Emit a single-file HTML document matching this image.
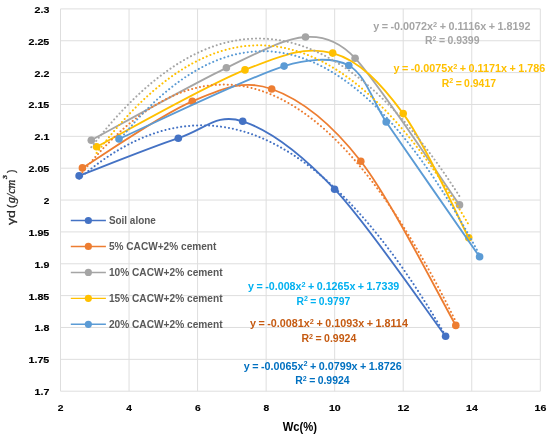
<!DOCTYPE html>
<html><head><meta charset="utf-8"><title>Chart</title>
<style>html,body{margin:0;padding:0;background:#fff;overflow:hidden}svg{display:block}</style></head>
<body>
<svg width="550" height="438" viewBox="0 0 550 438">
<rect width="550" height="438" fill="#fff"/>
<g stroke="#DEDEDE" stroke-width="1" fill="none" shape-rendering="auto">
<line x1="60.50" y1="8.90" x2="540.30" y2="8.90"/>
<line x1="60.50" y1="40.76" x2="540.30" y2="40.76"/>
<line x1="60.50" y1="72.62" x2="540.30" y2="72.62"/>
<line x1="60.50" y1="104.48" x2="540.30" y2="104.48"/>
<line x1="60.50" y1="136.33" x2="540.30" y2="136.33"/>
<line x1="60.50" y1="168.19" x2="540.30" y2="168.19"/>
<line x1="60.50" y1="200.05" x2="540.30" y2="200.05"/>
<line x1="60.50" y1="231.91" x2="540.30" y2="231.91"/>
<line x1="60.50" y1="263.77" x2="540.30" y2="263.77"/>
<line x1="60.50" y1="295.62" x2="540.30" y2="295.62"/>
<line x1="60.50" y1="327.48" x2="540.30" y2="327.48"/>
<line x1="60.50" y1="359.34" x2="540.30" y2="359.34"/>
<line x1="60.50" y1="391.20" x2="540.30" y2="391.20"/>
<line x1="60.50" y1="8.90" x2="60.50" y2="391.20"/>
<line x1="129.04" y1="8.90" x2="129.04" y2="391.20"/>
<line x1="197.59" y1="8.90" x2="197.59" y2="391.20"/>
<line x1="266.13" y1="8.90" x2="266.13" y2="391.20"/>
<line x1="334.67" y1="8.90" x2="334.67" y2="391.20"/>
<line x1="403.21" y1="8.90" x2="403.21" y2="391.20"/>
<line x1="471.76" y1="8.90" x2="471.76" y2="391.20"/>
<line x1="540.30" y1="8.90" x2="540.30" y2="391.20"/>
</g>
<path d="M79.10,175.80 C95.63,169.53 151.03,147.28 178.30,138.20 C205.57,129.12 216.65,112.80 242.70,121.30 C268.75,129.80 300.78,153.37 334.60,189.20 C368.42,225.03 427.10,311.78 445.60,336.30" fill="none" stroke="#4472C4" stroke-width="1.85" stroke-linecap="round" stroke-linejoin="round"/>
<circle cx="79.10" cy="175.80" r="3.8" fill="#4472C4"/>
<circle cx="178.30" cy="138.20" r="3.8" fill="#4472C4"/>
<circle cx="242.70" cy="121.30" r="3.8" fill="#4472C4"/>
<circle cx="334.60" cy="189.20" r="3.8" fill="#4472C4"/>
<circle cx="445.60" cy="336.30" r="3.8" fill="#4472C4"/>
<path d="M82.40,167.90 C100.72,156.80 160.75,114.45 192.30,101.30 C223.85,88.15 243.62,79.02 271.70,89.00 C299.78,98.98 330.12,121.80 360.80,161.20 C391.48,200.60 439.97,298.03 455.80,325.40" fill="none" stroke="#ED7D31" stroke-width="1.85" stroke-linecap="round" stroke-linejoin="round"/>
<circle cx="82.40" cy="167.90" r="3.8" fill="#ED7D31"/>
<circle cx="192.30" cy="101.30" r="3.8" fill="#ED7D31"/>
<circle cx="271.70" cy="89.00" r="3.8" fill="#ED7D31"/>
<circle cx="360.80" cy="161.20" r="3.8" fill="#ED7D31"/>
<circle cx="455.80" cy="325.40" r="3.8" fill="#ED7D31"/>
<path d="M91.30,140.20 C113.82,128.13 190.70,85.00 226.40,67.80 C262.10,50.60 284.05,38.60 305.50,37.00 C326.95,35.40 342.95,44.95 355.10,58.20 C380.77,86.18 442.10,180.45 459.50,204.90" fill="none" stroke="#A5A5A5" stroke-width="1.85" stroke-linecap="round" stroke-linejoin="round"/>
<circle cx="91.30" cy="140.20" r="3.8" fill="#A5A5A5"/>
<circle cx="226.40" cy="67.80" r="3.8" fill="#A5A5A5"/>
<circle cx="305.50" cy="37.00" r="3.8" fill="#A5A5A5"/>
<circle cx="355.10" cy="58.20" r="3.8" fill="#A5A5A5"/>
<circle cx="459.50" cy="204.90" r="3.8" fill="#A5A5A5"/>
<path d="M96.60,146.80 C121.33,133.98 205.65,85.52 245.00,69.90 C284.35,54.28 306.33,45.82 332.70,53.10 C359.07,60.38 380.53,82.82 403.20,113.60 C425.87,144.38 457.78,217.10 468.70,237.80" fill="none" stroke="#FFC000" stroke-width="1.85" stroke-linecap="round" stroke-linejoin="round"/>
<circle cx="96.60" cy="146.80" r="3.8" fill="#FFC000"/>
<circle cx="245.00" cy="69.90" r="3.8" fill="#FFC000"/>
<circle cx="332.70" cy="53.10" r="3.8" fill="#FFC000"/>
<circle cx="403.20" cy="113.60" r="3.8" fill="#FFC000"/>
<circle cx="468.70" cy="237.80" r="3.8" fill="#FFC000"/>
<path d="M119.00,138.90 C146.52,126.77 245.80,78.33 284.10,66.10 C304.65,59.54 331.78,56.20 348.80,65.50 C365.82,74.80 373.47,103.28 386.20,121.90 C408.00,153.78 464.03,234.32 479.60,256.80" fill="none" stroke="#5B9BD5" stroke-width="1.85" stroke-linecap="round" stroke-linejoin="round"/>
<circle cx="119.00" cy="138.90" r="3.8" fill="#5B9BD5"/>
<circle cx="284.10" cy="66.10" r="3.8" fill="#5B9BD5"/>
<circle cx="348.80" cy="65.50" r="3.8" fill="#5B9BD5"/>
<circle cx="386.20" cy="121.90" r="3.8" fill="#5B9BD5"/>
<circle cx="479.60" cy="256.80" r="3.8" fill="#5B9BD5"/>
<path d="M79.10,178.69 L83.68,174.78 L88.26,171.02 L92.84,167.41 L97.42,163.94 L102.01,160.63 L106.59,157.46 L111.17,154.45 L115.75,151.58 L120.33,148.86 L124.91,146.29 L129.49,143.86 L134.08,141.59 L138.66,139.47 L143.24,137.49 L147.82,135.66 L152.40,133.98 L156.98,132.45 L161.56,131.07 L166.14,129.84 L170.72,128.76 L175.31,127.82 L179.89,127.03 L184.47,126.40 L189.05,125.91 L193.63,125.57 L198.21,125.37 L202.79,125.33 L207.38,125.44 L211.96,125.69 L216.54,126.09 L221.12,126.64 L225.70,127.34 L230.28,128.19 L234.86,129.19 L239.44,130.34 L244.03,131.63 L248.61,133.08 L253.19,134.67 L257.77,136.41 L262.35,138.30 L266.93,140.34 L271.51,142.52 L276.09,144.86 L280.67,147.34 L285.26,149.98 L289.84,152.76 L294.42,155.69 L299.00,158.77 L303.58,162.00 L308.16,165.37 L312.74,168.90 L317.33,172.57 L321.91,176.40 L326.49,180.37 L331.07,184.49 L335.65,188.76 L340.23,193.17 L344.81,197.74 L349.39,202.46 L353.98,207.32 L358.56,212.33 L363.14,217.49 L367.72,222.80 L372.30,228.26 L376.88,233.87 L381.46,239.62 L386.04,245.53 L390.63,251.58 L395.21,257.78 L399.79,264.13 L404.37,270.63 L408.95,277.28 L413.53,284.08 L418.11,291.02 L422.69,298.12 L427.28,305.36 L431.86,312.75 L436.44,320.29 L441.02,327.98 L445.60,335.82" fill="none" stroke="#4472C4" stroke-width="2" stroke-linecap="round" stroke-dasharray="0.1 3.9"/>
<path d="M82.40,172.31 L87.07,166.60 L91.74,161.09 L96.40,155.77 L101.07,150.64 L105.74,145.70 L110.41,140.96 L115.07,136.40 L119.74,132.04 L124.41,127.87 L129.08,123.89 L133.74,120.10 L138.41,116.51 L143.08,113.10 L147.75,109.89 L152.41,106.87 L157.08,104.04 L161.75,101.40 L166.42,98.96 L171.08,96.70 L175.75,94.64 L180.42,92.77 L185.08,91.09 L189.75,89.60 L194.42,88.31 L199.09,87.20 L203.76,86.29 L208.42,85.57 L213.09,85.04 L217.76,84.70 L222.43,84.55 L227.09,84.60 L231.76,84.84 L236.43,85.27 L241.09,85.89 L245.76,86.70 L250.43,87.70 L255.10,88.90 L259.76,90.29 L264.43,91.86 L269.10,93.63 L273.77,95.60 L278.43,97.75 L283.10,100.10 L287.77,102.63 L292.44,105.36 L297.11,108.28 L301.77,111.40 L306.44,114.70 L311.11,118.20 L315.77,121.88 L320.44,125.76 L325.11,129.83 L329.78,134.09 L334.44,138.55 L339.11,143.19 L343.78,148.03 L348.45,153.06 L353.11,158.28 L357.78,163.69 L362.45,169.30 L367.12,175.09 L371.79,181.08 L376.45,187.26 L381.12,193.63 L385.79,200.19 L390.45,206.94 L395.12,213.89 L399.79,221.03 L404.46,228.36 L409.13,235.88 L413.79,243.59 L418.46,251.49 L423.13,259.59 L427.80,267.88 L432.46,276.35 L437.13,285.02 L441.80,293.89 L446.47,302.94 L451.13,312.19 L455.80,321.62" fill="none" stroke="#ED7D31" stroke-width="2" stroke-linecap="round" stroke-dasharray="0.1 3.9"/>
<path d="M91.30,147.23 L95.90,141.32 L100.50,135.57 L105.11,129.99 L109.71,124.58 L114.31,119.33 L118.91,114.24 L123.52,109.32 L128.12,104.57 L132.72,99.98 L137.32,95.56 L141.93,91.30 L146.53,87.20 L151.13,83.27 L155.74,79.51 L160.34,75.91 L164.94,72.48 L169.54,69.21 L174.14,66.11 L178.75,63.17 L183.35,60.40 L187.95,57.79 L192.55,55.35 L197.16,53.07 L201.76,50.96 L206.36,49.01 L210.96,47.23 L215.57,45.61 L220.17,44.16 L224.77,42.88 L229.38,41.76 L233.98,40.80 L238.58,40.01 L243.18,39.38 L247.78,38.92 L252.39,38.63 L256.99,38.50 L261.59,38.53 L266.19,38.73 L270.80,39.10 L275.40,39.63 L280.00,40.32 L284.61,41.18 L289.21,42.21 L293.81,43.40 L298.41,44.75 L303.01,46.28 L307.62,47.96 L312.22,49.81 L316.82,51.83 L321.43,54.01 L326.03,56.36 L330.63,58.87 L335.23,61.55 L339.83,64.39 L344.44,67.40 L349.04,70.57 L353.64,73.91 L358.25,77.41 L362.85,81.08 L367.45,84.91 L372.05,88.91 L376.65,93.07 L381.26,97.40 L385.86,101.89 L390.46,106.55 L395.06,111.38 L399.67,116.36 L404.27,121.52 L408.87,126.84 L413.47,132.32 L418.08,137.97 L422.68,143.79 L427.28,149.77 L431.89,155.91 L436.49,162.22 L441.09,168.70 L445.69,175.34 L450.29,182.14 L454.90,189.11 L459.50,196.25" fill="none" stroke="#A5A5A5" stroke-width="2" stroke-linecap="round" stroke-dasharray="0.1 3.9"/>
<path d="M96.60,152.98 L101.25,146.90 L105.90,141.00 L110.55,135.28 L115.20,129.73 L119.86,124.35 L124.51,119.16 L129.16,114.14 L133.81,109.30 L138.46,104.63 L143.11,100.14 L147.76,95.83 L152.41,91.69 L157.07,87.73 L161.72,83.95 L166.37,80.34 L171.02,76.91 L175.67,73.66 L180.32,70.58 L184.97,67.68 L189.62,64.95 L194.28,62.41 L198.93,60.04 L203.58,57.84 L208.23,55.82 L212.88,53.98 L217.53,52.32 L222.18,50.83 L226.84,49.52 L231.49,48.38 L236.14,47.43 L240.79,46.64 L245.44,46.04 L250.09,45.61 L254.74,45.36 L259.39,45.28 L264.04,45.38 L268.70,45.66 L273.35,46.12 L278.00,46.75 L282.65,47.55 L287.30,48.54 L291.95,49.70 L296.60,51.04 L301.25,52.55 L305.91,54.24 L310.56,56.11 L315.21,58.15 L319.86,60.37 L324.51,62.77 L329.16,65.34 L333.81,68.09 L338.46,71.02 L343.12,74.12 L347.77,77.40 L352.42,80.85 L357.07,84.49 L361.72,88.30 L366.37,92.28 L371.02,96.44 L375.68,100.78 L380.33,105.30 L384.98,109.99 L389.63,114.86 L394.28,119.90 L398.93,125.13 L403.58,130.52 L408.23,136.10 L412.88,141.85 L417.54,147.78 L422.19,153.88 L426.84,160.16 L431.49,166.62 L436.14,173.26 L440.79,180.07 L445.44,187.05 L450.09,194.22 L454.75,201.56 L459.40,209.08 L464.05,216.77 L468.70,224.64" fill="none" stroke="#FFC000" stroke-width="2" stroke-linecap="round" stroke-dasharray="0.1 3.9"/>
<path d="M119.00,140.68 L123.51,135.15 L128.01,129.80 L132.52,124.63 L137.03,119.64 L141.54,114.82 L146.05,110.17 L150.55,105.70 L155.06,101.41 L159.57,97.30 L164.08,93.36 L168.58,89.59 L173.09,86.00 L177.60,82.59 L182.11,79.36 L186.61,76.30 L191.12,73.41 L195.63,70.70 L200.14,68.17 L204.64,65.82 L209.15,63.64 L213.66,61.63 L218.16,59.80 L222.67,58.15 L227.18,56.67 L231.69,55.37 L236.19,54.25 L240.70,53.30 L245.21,52.53 L249.72,51.93 L254.22,51.51 L258.73,51.27 L263.24,51.20 L267.75,51.31 L272.26,51.59 L276.76,52.05 L281.27,52.69 L285.78,53.50 L290.29,54.48 L294.79,55.65 L299.30,56.99 L303.81,58.50 L308.32,60.19 L312.82,62.06 L317.33,64.10 L321.84,66.32 L326.35,68.72 L330.85,71.29 L335.36,74.04 L339.87,76.96 L344.38,80.06 L348.88,83.34 L353.39,86.79 L357.90,90.41 L362.41,94.22 L366.91,98.20 L371.42,102.35 L375.93,106.68 L380.44,111.19 L384.94,115.87 L389.45,120.73 L393.96,125.77 L398.47,130.98 L402.97,136.36 L407.48,141.93 L411.99,147.67 L416.50,153.58 L421.00,159.67 L425.51,165.94 L430.02,172.38 L434.53,179.00 L439.03,185.79 L443.54,192.77 L448.05,199.91 L452.56,207.23 L457.06,214.73 L461.57,222.41 L466.08,230.26 L470.59,238.29 L475.09,246.49 L479.60,254.87" fill="none" stroke="#5B9BD5" stroke-width="2" stroke-linecap="round" stroke-dasharray="0.1 3.9"/>
<g font-family="'Liberation Sans', sans-serif" font-weight="bold" font-size="9.7px" fill="#000" stroke="#000" stroke-width="0.15">
<text x="34.50" y="12.80" textLength="14.8" lengthAdjust="spacingAndGlyphs">2.3</text>
<text x="28.50" y="44.66" textLength="20.8" lengthAdjust="spacingAndGlyphs">2.25</text>
<text x="34.50" y="76.52" textLength="14.8" lengthAdjust="spacingAndGlyphs">2.2</text>
<text x="28.50" y="108.38" textLength="20.8" lengthAdjust="spacingAndGlyphs">2.15</text>
<text x="34.50" y="140.23" textLength="14.8" lengthAdjust="spacingAndGlyphs">2.1</text>
<text x="28.50" y="172.09" textLength="20.8" lengthAdjust="spacingAndGlyphs">2.05</text>
<text x="43.70" y="203.95" textLength="5.6" lengthAdjust="spacingAndGlyphs">2</text>
<text x="28.50" y="235.81" textLength="20.8" lengthAdjust="spacingAndGlyphs">1.95</text>
<text x="34.50" y="267.67" textLength="14.8" lengthAdjust="spacingAndGlyphs">1.9</text>
<text x="28.50" y="299.52" textLength="20.8" lengthAdjust="spacingAndGlyphs">1.85</text>
<text x="34.50" y="331.38" textLength="14.8" lengthAdjust="spacingAndGlyphs">1.8</text>
<text x="28.50" y="363.24" textLength="20.8" lengthAdjust="spacingAndGlyphs">1.75</text>
<text x="34.50" y="395.10" textLength="14.8" lengthAdjust="spacingAndGlyphs">1.7</text>
<text x="57.85" y="410.9" textLength="5.7" lengthAdjust="spacingAndGlyphs">2</text>
<text x="126.39" y="410.9" textLength="5.7" lengthAdjust="spacingAndGlyphs">4</text>
<text x="194.94" y="410.9" textLength="5.7" lengthAdjust="spacingAndGlyphs">6</text>
<text x="263.48" y="410.9" textLength="5.7" lengthAdjust="spacingAndGlyphs">8</text>
<text x="328.97" y="410.9" textLength="11.8" lengthAdjust="spacingAndGlyphs">10</text>
<text x="397.51" y="410.9" textLength="11.8" lengthAdjust="spacingAndGlyphs">12</text>
<text x="466.06" y="410.9" textLength="11.8" lengthAdjust="spacingAndGlyphs">14</text>
<text x="534.60" y="410.9" textLength="11.8" lengthAdjust="spacingAndGlyphs">16</text>
</g>
<text x="282.7" y="430.5" font-family="'Liberation Sans', sans-serif" font-weight="bold" font-size="12.2px" fill="#000" textLength="34.4" lengthAdjust="spacingAndGlyphs">Wc(%)</text>
<g transform="translate(14.6,225.3) rotate(-90)" fill="#2a2a2a" stroke="#2a2a2a" stroke-width="0.3">
<text x="0.2" y="0" font-family="'Liberation Sans', sans-serif" font-size="10.5px" textLength="14.9" lengthAdjust="spacingAndGlyphs">γd</text>
<text x="17.4" y="0" font-family="'Liberation Sans', sans-serif" font-size="10.5px" textLength="3.5" lengthAdjust="spacingAndGlyphs">(</text>
<text x="22.0" y="0" font-family="'Liberation Serif', serif" font-style="italic" font-size="11.5px" fill="#222" textLength="23.6" lengthAdjust="spacingAndGlyphs">g/cm</text>
<text x="46.3" y="-7.2" font-family="'Liberation Serif', serif" font-style="italic" font-size="7px" fill="#222" stroke-width="0.4" textLength="3.9" lengthAdjust="spacingAndGlyphs">3</text>
<text x="52.4" y="0" font-family="'Liberation Sans', sans-serif" font-size="10.5px" textLength="3.5" lengthAdjust="spacingAndGlyphs">)</text>
</g>
<line x1="70.8" y1="220.50" x2="105.9" y2="220.50" stroke="#4472C4" stroke-width="1.45"/>
<circle cx="88.35" cy="220.50" r="3.6" fill="#4472C4"/>
<text x="108.9" y="224.10" font-family="'Liberation Sans', sans-serif" font-weight="bold" font-size="10.8px" fill="#595959" textLength="46.9" lengthAdjust="spacingAndGlyphs">Soil alone</text>
<line x1="70.8" y1="246.45" x2="105.9" y2="246.45" stroke="#ED7D31" stroke-width="1.45"/>
<circle cx="88.35" cy="246.45" r="3.6" fill="#ED7D31"/>
<text x="108.9" y="250.05" font-family="'Liberation Sans', sans-serif" font-weight="bold" font-size="10.8px" fill="#595959" textLength="107.5" lengthAdjust="spacingAndGlyphs">5% CACW+2% cement</text>
<line x1="70.8" y1="272.40" x2="105.9" y2="272.40" stroke="#A5A5A5" stroke-width="1.45"/>
<circle cx="88.35" cy="272.40" r="3.6" fill="#A5A5A5"/>
<text x="108.9" y="276.00" font-family="'Liberation Sans', sans-serif" font-weight="bold" font-size="10.8px" fill="#595959" textLength="113.7" lengthAdjust="spacingAndGlyphs">10% CACW+2% cement</text>
<line x1="70.8" y1="298.35" x2="105.9" y2="298.35" stroke="#FFC000" stroke-width="1.45"/>
<circle cx="88.35" cy="298.35" r="3.6" fill="#FFC000"/>
<text x="108.9" y="301.95" font-family="'Liberation Sans', sans-serif" font-weight="bold" font-size="10.8px" fill="#595959" textLength="113.7" lengthAdjust="spacingAndGlyphs">15% CACW+2% cement</text>
<line x1="70.8" y1="324.30" x2="105.9" y2="324.30" stroke="#5B9BD5" stroke-width="1.45"/>
<circle cx="88.35" cy="324.30" r="3.6" fill="#5B9BD5"/>
<text x="108.9" y="327.90" font-family="'Liberation Sans', sans-serif" font-weight="bold" font-size="10.8px" fill="#595959" textLength="113.7" lengthAdjust="spacingAndGlyphs">20% CACW+2% cement</text>
<text x="373.20" y="29.80" font-family="'Liberation Sans', sans-serif" font-weight="bold" font-size="10.3px" word-spacing="-0.5" fill="#A5A5A5" textLength="157.4" lengthAdjust="spacingAndGlyphs">y = -0.0072x<tspan font-size="7px" dy="-3.3">2</tspan><tspan dy="3.3"> + 0.1116x + 1.8192</tspan></text>
<text x="425.00" y="44.40" font-family="'Liberation Sans', sans-serif" font-weight="bold" font-size="10.3px" word-spacing="-0.5" fill="#A5A5A5" textLength="54.5" lengthAdjust="spacingAndGlyphs">R<tspan font-size="7px" dy="-3.3">2</tspan><tspan dy="3.3"> = 0.9399</tspan></text>
<text x="393.50" y="72.00" font-family="'Liberation Sans', sans-serif" font-weight="bold" font-size="10.3px" word-spacing="-0.5" fill="#FFC000" textLength="151.7" lengthAdjust="spacingAndGlyphs">y = -0.0075x<tspan font-size="7px" dy="-3.3">2</tspan><tspan dy="3.3"> + 0.1171x + 1.786</tspan></text>
<text x="441.80" y="86.60" font-family="'Liberation Sans', sans-serif" font-weight="bold" font-size="10.3px" word-spacing="-0.5" fill="#FFC000" textLength="54.2" lengthAdjust="spacingAndGlyphs">R<tspan font-size="7px" dy="-3.3">2</tspan><tspan dy="3.3"> = 0.9417</tspan></text>
<text x="248.10" y="290.10" font-family="'Liberation Sans', sans-serif" font-weight="bold" font-size="10.3px" word-spacing="-0.5" fill="#00B0F0" textLength="151.2" lengthAdjust="spacingAndGlyphs">y = -0.008x<tspan font-size="7px" dy="-3.3">2</tspan><tspan dy="3.3"> + 0.1265x + 1.7339</tspan></text>
<text x="296.50" y="304.70" font-family="'Liberation Sans', sans-serif" font-weight="bold" font-size="10.3px" word-spacing="-0.5" fill="#00B0F0" textLength="53.8" lengthAdjust="spacingAndGlyphs">R<tspan font-size="7px" dy="-3.3">2</tspan><tspan dy="3.3"> = 0.9797</tspan></text>
<text x="250.00" y="327.20" font-family="'Liberation Sans', sans-serif" font-weight="bold" font-size="10.3px" word-spacing="-0.5" fill="#C55A11" textLength="157.9" lengthAdjust="spacingAndGlyphs">y = -0.0081x<tspan font-size="7px" dy="-3.3">2</tspan><tspan dy="3.3"> + 0.1093x + 1.8114</tspan></text>
<text x="301.50" y="341.80" font-family="'Liberation Sans', sans-serif" font-weight="bold" font-size="10.3px" word-spacing="-0.5" fill="#C55A11" textLength="54.8" lengthAdjust="spacingAndGlyphs">R<tspan font-size="7px" dy="-3.3">2</tspan><tspan dy="3.3"> = 0.9924</tspan></text>
<text x="243.80" y="369.60" font-family="'Liberation Sans', sans-serif" font-weight="bold" font-size="10.3px" word-spacing="-0.5" fill="#0070C0" textLength="157.9" lengthAdjust="spacingAndGlyphs">y = -0.0065x<tspan font-size="7px" dy="-3.3">2</tspan><tspan dy="3.3"> + 0.0799x + 1.8726</tspan></text>
<text x="295.30" y="384.20" font-family="'Liberation Sans', sans-serif" font-weight="bold" font-size="10.3px" word-spacing="-0.5" fill="#0070C0" textLength="54.3" lengthAdjust="spacingAndGlyphs">R<tspan font-size="7px" dy="-3.3">2</tspan><tspan dy="3.3"> = 0.9924</tspan></text>
</svg>
</body></html>
